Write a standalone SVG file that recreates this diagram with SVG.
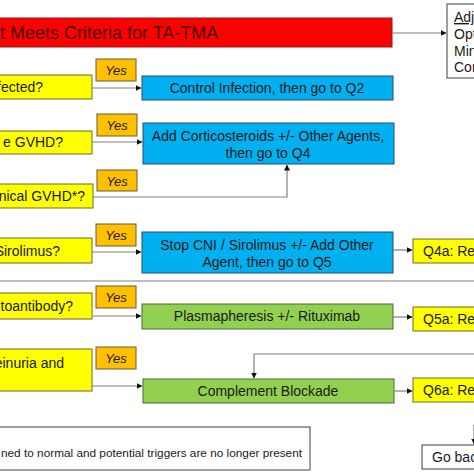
<svg xmlns="http://www.w3.org/2000/svg" width="474" height="474" viewBox="0 0 474 474">
<defs>
<marker id="ah" markerWidth="6" markerHeight="6" refX="5.5" refY="3" orient="auto" markerUnits="userSpaceOnUse">
<path d="M0,0 L6,3 L0,6 Z" fill="#111"/>
</marker>
<style>
text{font-family:"Liberation Sans",Arial,sans-serif;font-size:14px;fill:#1a1a1a}
.y{fill:#ffff00;stroke:#6b6b2a;stroke-width:1}
.o{fill:#ffc000;stroke:#6b5a30;stroke-width:1}
.b{fill:#00b0f0;stroke:#2a4a6a;stroke-width:1}
.g{fill:#92d050;stroke:#4a6a3a;stroke-width:1}
.w{fill:#fff;stroke:#404040;stroke-width:1}
.yes{font-style:italic;font-size:13px;text-anchor:middle}
.c{text-anchor:middle}
.e{text-anchor:end}
.ln{fill:none;stroke:#7f7f7f;stroke-width:1.2}
</style>
</defs>
<rect width="474" height="474" fill="#fff"/>

<g id="start">
<rect x="-5" y="18" width="397" height="29" fill="#ff0000" stroke="#8a1a1a" stroke-width="1"/>
<text x="0" y="39" style="font-size:18px;fill:#4a0606">t Meets Criteria for TA-TMA</text>
</g>
<g id="adjunct">
<rect class="w" x="447" y="4" width="40" height="74"/>
<text x="454" y="22" text-decoration="underline">Adj</text>
<text x="454" y="39">Opt</text>
<text x="454" y="56">Min</text>
<text x="454" y="72">Con</text>
</g>

<g id="q1">
<rect class="y" x="-5" y="75" width="97" height="24"/>
<text class="e" x="43" y="92">fected?</text>
</g>
<g id="yes1"><rect class="o" x="96" y="59" width="40" height="22"/><text class="yes" x="116" y="75">Yes</text></g>
<g id="a1">
<rect class="b" x="142" y="76" width="251" height="24"/>
<text class="c" x="267" y="93">Control Infection, then go to Q2</text>
</g>

<g id="q2">
<rect class="y" x="-5" y="131" width="97" height="23"/>
<text class="e" x="63" y="147">e GVHD?</text>
</g>
<g id="yes2"><rect class="o" x="97" y="114" width="40" height="22"/><text class="yes" x="117" y="130">Yes</text></g>
<g id="a2">
<rect class="b" x="143" y="123" width="251" height="41"/>
<text class="c" x="268" y="141">Add Corticosteroids +/- Other Agents,</text>
<text class="c" x="268" y="158">then go to Q4</text>
</g>

<g id="q3">
<rect class="y" x="-5" y="184" width="98" height="24"/>
<text class="e" x="85" y="201">nical GVHD*?</text>
</g>
<g id="yes3"><rect class="o" x="97" y="170" width="40" height="21"/><text class="yes" x="117" y="186">Yes</text></g>

<g id="q4">
<rect class="y" x="-5" y="238" width="97" height="25"/>
<text class="e" x="60" y="256">Sirolimus?</text>
</g>
<g id="yes4"><rect class="o" x="96" y="224" width="40" height="22"/><text class="yes" x="116" y="240">Yes</text></g>
<g id="a4">
<rect class="b" x="142" y="232" width="251" height="41"/>
<text class="c" x="267" y="250">Stop CNI / Sirolimus +/- Add Other</text>
<text class="c" x="267" y="267">Agent, then go to Q5</text>
</g>
<g id="q4a">
<rect class="y" x="413" y="239" width="70" height="24"/>
<text x="423" y="256">Q4a: Re</text>
</g>

<g id="q5">
<rect class="y" x="-5" y="293" width="97" height="26"/>
<text class="e" x="73" y="311">toantibody?</text>
</g>
<g id="yes5"><rect class="o" x="96" y="286" width="40" height="22"/><text class="yes" x="116" y="302">Yes</text></g>
<g id="a5">
<rect class="g" x="142" y="304" width="251" height="25"/>
<text class="c" x="267" y="321">Plasmapheresis +/- Rituximab</text>
</g>
<g id="q5a">
<rect class="y" x="413" y="307" width="70" height="24"/>
<text x="423" y="324">Q5a: Re</text>
</g>

<g id="q6">
<rect class="y" x="-5" y="349" width="97" height="42"/>
<text class="e" x="64" y="368">einuria and</text>
</g>
<g id="yes6"><rect class="o" x="96" y="347" width="40" height="22"/><text class="yes" x="116" y="363">Yes</text></g>
<g id="a6">
<rect class="g" x="143" y="379" width="251" height="24"/>
<text class="c" x="268" y="396">Complement Blockade</text>
</g>
<g id="q6a">
<rect class="y" x="413" y="378" width="70" height="24"/>
<text x="423" y="395">Q6a: Re</text>
</g>

<g id="end">
<rect class="w" x="-5" y="427" width="315" height="43"/>
<text x="1" y="457" style="font-size:11.8px">ned to normal and potential triggers are no longer present</text>
</g>
<g id="goback">
<rect class="w" x="422" y="445" width="70" height="24"/>
<text x="432" y="462">Go bac</text>
</g>

<g id="connectors">
<path class="ln" d="M392,33 H446" marker-end="url(#ah)"/>
<path class="ln" d="M92,88 H141" marker-end="url(#ah)"/>
<path class="ln" d="M92,142 H142" marker-end="url(#ah)"/>
<path class="ln" d="M93,197 H287 V165" marker-end="url(#ah)"/>
<path class="ln" d="M92,252 H141" marker-end="url(#ah)"/>
<path class="ln" d="M393,250 H412" marker-end="url(#ah)"/>
<path class="ln" d="M0,281 H474"/>
<path class="ln" d="M92,316 H141" marker-end="url(#ah)"/>
<path class="ln" d="M393,317 H412" marker-end="url(#ah)"/>
<path class="ln" d="M474,354 H254 V378" marker-end="url(#ah)"/>
<path class="ln" d="M92,386 H142" marker-end="url(#ah)"/>
<path class="ln" d="M394,391 H412" marker-end="url(#ah)"/>
<path class="ln" d="M474,425 V444" marker-end="url(#ah)"/>
</g>
</svg>
